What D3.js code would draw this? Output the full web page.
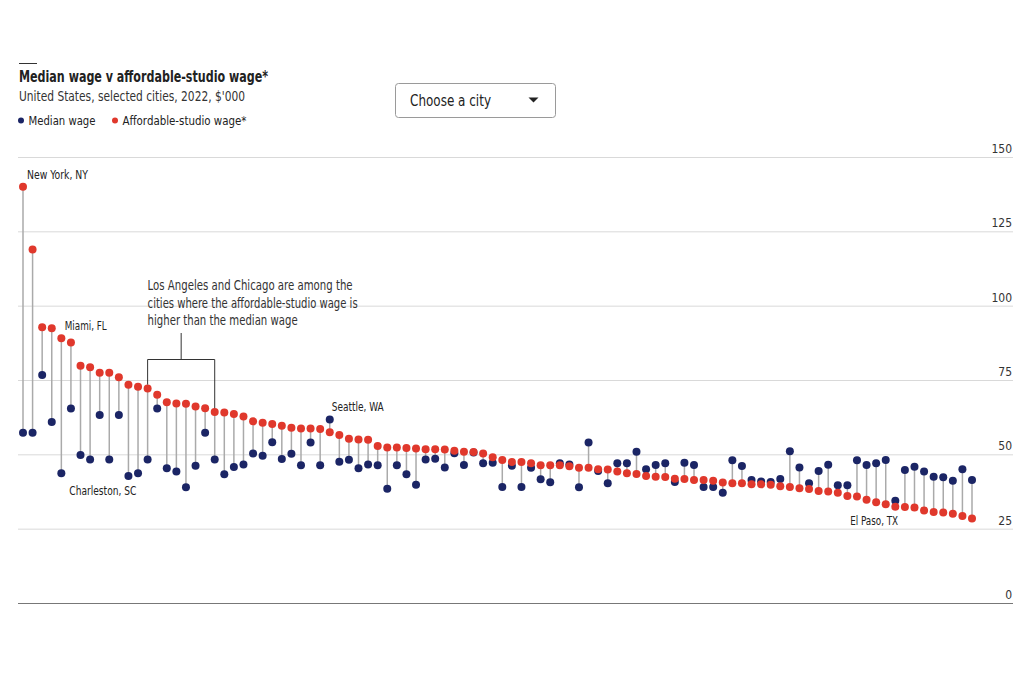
<!DOCTYPE html>
<html>
<head>
<meta charset="utf-8">
<script src="https://cdn.jsdelivr.net/npm/d3@7"></script>
<style>
  body { margin: 0; background: #fff; }
  svg text { font-family: "Liberation Sans Narrow", "Arial Narrow", "DejaVu Sans Condensed", sans-serif; fill: #222; }
</style>
</head>
<body>
<script>
// affordable-studio wage, $'000 (sorted high to low)
const affordable = [
  140.0, 118.9, 92.7, 92.4, 89.0, 87.6, 79.8, 79.3, 77.4, 77.4,
  75.9, 73.4, 72.7, 72.1, 70.0, 67.5, 67.1, 67.0, 66.1, 65.5,
  64.2, 64.1, 63.6, 62.7, 61.1, 60.6, 60.2, 59.6, 58.9, 58.7,
  58.7, 58.5, 57.4, 56.5, 55.2, 55.0, 54.9, 52.8, 52.3, 52.3,
  52.1, 52.0, 51.7, 51.7, 51.6, 51.2, 50.9, 50.8, 50.3, 49.0,
  48.1, 47.4, 47.4, 47.0, 46.3, 46.3, 46.3, 46.0, 45.5, 45.5,
  45.0, 44.9, 44.2, 43.6, 43.4, 42.7, 42.5, 42.4, 41.8, 41.7,
  41.4, 41.4, 41.1, 40.5, 40.3, 40.3, 39.9, 39.9, 39.8, 39.3,
  39.0, 38.6, 38.3, 37.7, 37.5, 37.1, 36.0, 35.8, 34.7, 33.9,
  33.2, 32.4, 32.3, 32.1, 31.1, 30.6, 30.4, 30.0, 29.3, 28.4
];

// median wage, $'000
const median = [
  57.3, 57.3, 76.7, 60.9, 43.6, 65.4, 49.8, 48.3, 63.2, 48.3,
  63.2, 42.7, 43.6, 48.3, 65.4, 45.3, 44.2, 38.9, 46.2, 57.3,
  48.3, 43.3, 45.7, 46.6, 50.3, 49.5, 54.1, 48.4, 50.2, 46.3,
  54.0, 46.3, 61.7, 47.5, 48.2, 45.3, 46.6, 46.3, 38.4, 46.3,
  43.3, 39.8, 48.3, 48.5, 45.6, 50.4, 46.4, 50.6, 47.0, 47.2,
  39.0, 46.2, 39.0, 45.5, 41.6, 40.6, 47.0, 46.6, 38.9, 54.0,
  44.4, 40.3, 47.0, 47.0, 50.9, 45.0, 46.4, 47.0, 40.7, 47.2,
  46.4, 39.0, 39.0, 37.1, 48.0, 46.1, 41.4, 40.9, 40.7, 41.7,
  51.0, 45.6, 40.3, 44.4, 46.5, 39.6, 39.6, 48.0, 46.4, 47.0,
  48.1, 34.4, 44.7, 45.8, 44.2, 42.5, 42.3, 41.1, 45.0, 41.4
];

const ranks = d3.range(affordable.length);
const yTicks = [0, 25, 50, 75, 100, 125, 150];

// labelled cities: index into the arrays, which dot the label hangs off
const labelled = [
  { i: 0, name: "New York, NY", series: "affordable" },
  { i: 3, name: "Miami, FL", series: "affordable" },
  { i: 4, name: "Charleston, SC", series: "median" },
  { i: 32, name: "Seattle, WA", series: "median" },
  { i: 89, name: "El Paso, TX", series: "affordable" }
];
// label offsets from their dot: dx, dy, anchor, text width
const labelOffset = {
  "New York, NY": [4, -8, "start", 61],
  "Miami, FL": [13, 2, "start", 42],
  "Charleston, SC": [8, 22, "start", 67],
  "Seattle, WA": [2, -9, "start", 52],
  "El Paso, TX": [-2, 23, "middle", 48]
};

const noteLines = [
  "Los Angeles and Chicago are among the",
  "cities where the affordable-studio wage is",
  "higher than the median wage"
];
const noteWidths = [205, 210, 150];
const bracketFrom = 13, bracketTo = 20;

const width = 1024, height = 683;
const blue = "#1b2565", red = "#e0382c";

// squeeze text to the narrow width of the original typeface
function fit(sel, w) {
  sel.attr("textLength", w).attr("lengthAdjust", "spacingAndGlyphs");
}

const svg = d3.select("body").append("svg")
  .attr("width", width)
  .attr("height", height);

// scales
const x = d3.scalePoint().domain(ranks).range([23, 972]);
const y = d3.scaleLinear().domain([0, 150]).range([603, 157]);

// header
svg.append("line")
  .attr("x1", 19).attr("x2", 37).attr("y1", 63.5).attr("y2", 63.5)
  .attr("stroke", "#333").attr("stroke-width", 1);

svg.append("text")
  .attr("x", 19).attr("y", 82)
  .style("font-size", "16px").style("font-weight", "bold")
  .text("Median wage v affordable-studio wage*")
  .call(fit, 249);

svg.append("text")
  .attr("x", 19).attr("y", 101)
  .style("font-size", "14px").style("fill", "#333")
  .text("United States, selected cities, 2022, $'000")
  .call(fit, 226);

// legend
let legend = svg.append("g");
[["Median wage", blue, 21, 67], ["Affordable-studio wage*", red, 115, 124]].forEach(([t, c, lx, w]) => {
  legend.append("circle").attr("cx", lx).attr("cy", 120.5).attr("r", 3).attr("fill", c);
  legend.append("text").attr("x", lx + 7.5).attr("y", 125)
    .style("font-size", "13px").text(t)
    .call(fit, w);
});

// dropdown box
let dd = svg.append("g");
dd.append("rect")
  .attr("x", 395.5).attr("y", 83.5).attr("width", 160).attr("height", 34)
  .attr("rx", 3).attr("fill", "#fff").attr("stroke", "#9a9a9a");
dd.append("text").attr("x", 410).attr("y", 106)
  .style("font-size", "15.5px").text("Choose a city")
  .call(fit, 81);
dd.append("path").attr("d", "M528.5,97.5 L538.5,97.5 L533.5,102.5 Z").attr("fill", "#222");

// gridlines + tick labels
let grid = svg.append("g");
grid.selectAll("line")
  .data(yTicks)
  .enter().append("line")
  .attr("x1", 18).attr("x2", 1013)
  .attr("y1", d => y(d) + 0.5).attr("y2", d => y(d) + 0.5)
  .attr("stroke", d => d === 0 ? "#777" : "#d9d9d9")
  .attr("stroke-width", 1);

grid.selectAll("text")
  .data(yTicks)
  .enter().append("text")
  .attr("x", 1012).attr("y", d => y(d) - 4)
  .attr("text-anchor", "end")
  .style("font-size", "12px").style("fill", "#333")
  .text(d => d);

// stems
svg.append("g").selectAll("line")
  .data(ranks)
  .enter().append("line")
  .attr("x1", d => x(d)).attr("x2", d => x(d))
  .attr("y1", d => y(median[d])).attr("y2", d => y(affordable[d]))
  .attr("stroke", "#aaa").attr("stroke-width", 1.5);

// dots: median first, affordable on top
svg.append("g").selectAll("circle")
  .data(ranks)
  .enter().append("circle")
  .attr("cx", d => x(d)).attr("cy", d => y(median[d]))
  .attr("r", 4).attr("fill", blue);

svg.append("g").selectAll("circle")
  .data(ranks)
  .enter().append("circle")
  .attr("cx", d => x(d)).attr("cy", d => y(affordable[d]))
  .attr("r", 4).attr("fill", red);

// city labels
svg.append("g").selectAll("text")
  .data(labelled)
  .enter().append("text")
  .attr("x", d => x(d.i) + labelOffset[d.name][0])
  .attr("y", d => y(d.series === "median" ? median[d.i] : affordable[d.i]) + labelOffset[d.name][1])
  .attr("text-anchor", d => labelOffset[d.name][2])
  .attr("textLength", d => labelOffset[d.name][3])
  .attr("lengthAdjust", "spacingAndGlyphs")
  .style("font-size", "12px")
  .text(d => d.name);

// annotation
let note = svg.append("g");
note.selectAll("text")
  .data(noteLines)
  .enter().append("text")
  .attr("x", x(bracketFrom))
  .attr("y", (d, i) => 290 + i * 17.7)
  .attr("textLength", (d, i) => noteWidths[i])
  .attr("lengthAdjust", "spacingAndGlyphs")
  .style("font-size", "13.5px").style("fill", "#333")
  .text(d => d);

let bx1 = x(bracketFrom), bx2 = x(bracketTo), by = 359.5;
let bracket = d3.path();
bracket.moveTo((bx1 + bx2) / 2, 333);
bracket.lineTo((bx1 + bx2) / 2, by);
bracket.moveTo(bx1, y(affordable[bracketFrom]) - 4);
bracket.lineTo(bx1, by);
bracket.lineTo(bx2, by);
bracket.lineTo(bx2, y(affordable[bracketTo]) - 4);
note.append("path")
  .attr("d", bracket.toString())
  .attr("fill", "none").attr("stroke", "#333").attr("stroke-width", 1);
</script>
</body>
</html>
